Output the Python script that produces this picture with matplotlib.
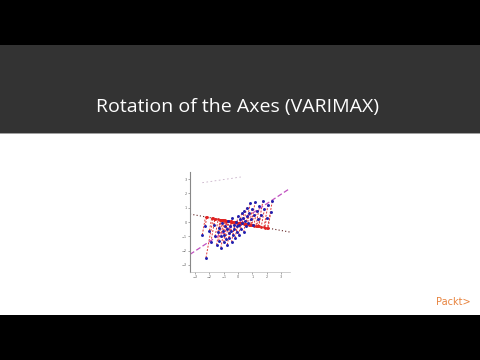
import matplotlib
matplotlib.use("Agg")
import matplotlib.pyplot as plt
from matplotlib.patches import Rectangle
import numpy as np

# slide text
title = "Rotation of the Axes (VARIMAX)"
logo = "Packt>"

pts_x = [-2.24, -2.50, -2.30, -2.00, -1.90, -1.70, -1.60, -1.50, -1.40, -1.35,
         -1.30, -1.20, -1.20, -1.10, -1.05, -1.00, -0.95, -0.90, -0.85, -0.80,
         -0.75, -0.70, -0.65, -0.60, -0.55, -0.50, -0.45, -0.40, -0.35, -0.30,
         -0.25, -0.20, -0.15, -0.10, -0.05, 0.00, 0.05, 0.10, 0.15, 0.20,
         0.25, 0.30, 0.35, 0.40, 0.45, 0.50, 0.55, 0.60, 0.65, 0.70,
         0.80, 0.85, 0.90, 1.00, 1.05, 1.10, 1.20, 1.30, 1.40, 1.50,
         1.60, 1.75, 1.85, 2.00, 2.10, 2.40, 2.30]
pts_y = [-2.50, -0.90, -0.30, -0.60, -1.40, -0.20, -1.00, -1.60, -0.70, -1.30,
         -0.40, -1.00, -1.80, -0.10, -0.60, -1.40, -0.90, -0.30, -1.20, -0.50,
         -1.60, 0.10, -0.80, -1.10, -0.30, -0.60, -1.40, 0.30, -0.90, -0.20,
         -0.50, -1.10, 0.00, -0.70, -0.30, 0.40, -0.90, -0.20, 0.20, -0.50,
         0.60, -0.10, 0.30, -0.70, 0.80, 0.10, -0.30, 1.00, 0.40, -0.10,
         0.60, 1.30, 0.20, 0.90, -0.20, 0.50, 1.40, 0.80, 0.20, 1.10,
         0.50, 1.50, 0.90, 0.30, 1.20, 1.45, 0.70]

# rotated axis (dotted) and principal direction (dashed)
rot_slope, rot_icpt = -0.18, -0.05
pc_slope, pc_icpt = 0.66, -0.05
# faint line near the top
faint_x = [-2.5, 0.2]
faint_y = [2.75, 3.15]

ticks = [-3, -2, -1, 0, 1, 2, 3]

fig = plt.figure(figsize=(4.8, 3.6), dpi=100)
fig.patch.set_facecolor("white")

def band(top, bottom, color):
    fig.add_artist(Rectangle((0, 1 - bottom / 360), 1, (bottom - top) / 360,
                             transform=fig.transFigure, color=color, zorder=0,
                             lw=0))

band(0, 45, "black")
band(45, 133, "#333333")
band(132.5, 133.5, "#a0a0a0")
band(315, 360, "black")

fig.text(238 / 480, 1 - 107 / 360, title, color="white", fontsize=14,
         family="Open Sans", ha="center", va="center")
fig.text(453 / 480, 1 - 302 / 360, logo, color="#e8843f", fontsize=7,
         family="DejaVu Sans", ha="center", va="center")

ax = fig.add_axes([190 / 480, 1 - 272 / 360, 100 / 480, 100 / 360])
ax.set_xlim(-3.36, 3.64)
ax.set_ylim(-3.5, 3.5)

px = np.array(pts_x)
py = np.array(pts_y)
# projection of each point on the rotated axis
d = np.array([1.0, rot_slope]) / np.hypot(1.0, rot_slope)
t = px * d[0] + (py - rot_icpt) * d[1]
qx = t * d[0]
qy = rot_icpt + t * d[1]

for a, b, c, e in zip(px, py, qx, qy):
    ax.plot([a, c], [b, e], ls=(0, (2, 1.5)), color="#e03a3a", lw=0.7)

xl = np.array([-3.36, 3.64])
ax.plot(xl, rot_icpt + rot_slope * xl, ls=(0, (1, 2)), color="#602020", lw=0.8)
ax.plot(xl, pc_icpt + pc_slope * xl, ls=(0, (4, 2)), color="#c050c0", lw=0.9)
ax.plot(faint_x, faint_y, ls=(0, (2, 3)), color="#c8b0c8", lw=0.6)

ax.scatter(qx, qy, s=4, color="#e02020", zorder=3, linewidths=0)
ax.scatter(px, py, s=4.5, color="#2020b0", zorder=4, linewidths=0)

ax.set_xticks(ticks)
ax.set_yticks(ticks)
ax.tick_params(labelsize=2.5, length=1.5, width=0.4, pad=1, colors="#666666")
for s in ["top", "right"]:
    ax.spines[s].set_visible(False)
ax.spines["left"].set_color("#888888")
ax.spines["left"].set_linewidth(0.8)
ax.spines["bottom"].set_color("#bbbbbb")
ax.spines["bottom"].set_linewidth(0.5)
ax.patch.set_alpha(0)

fig.savefig("out.png", dpi=100)
